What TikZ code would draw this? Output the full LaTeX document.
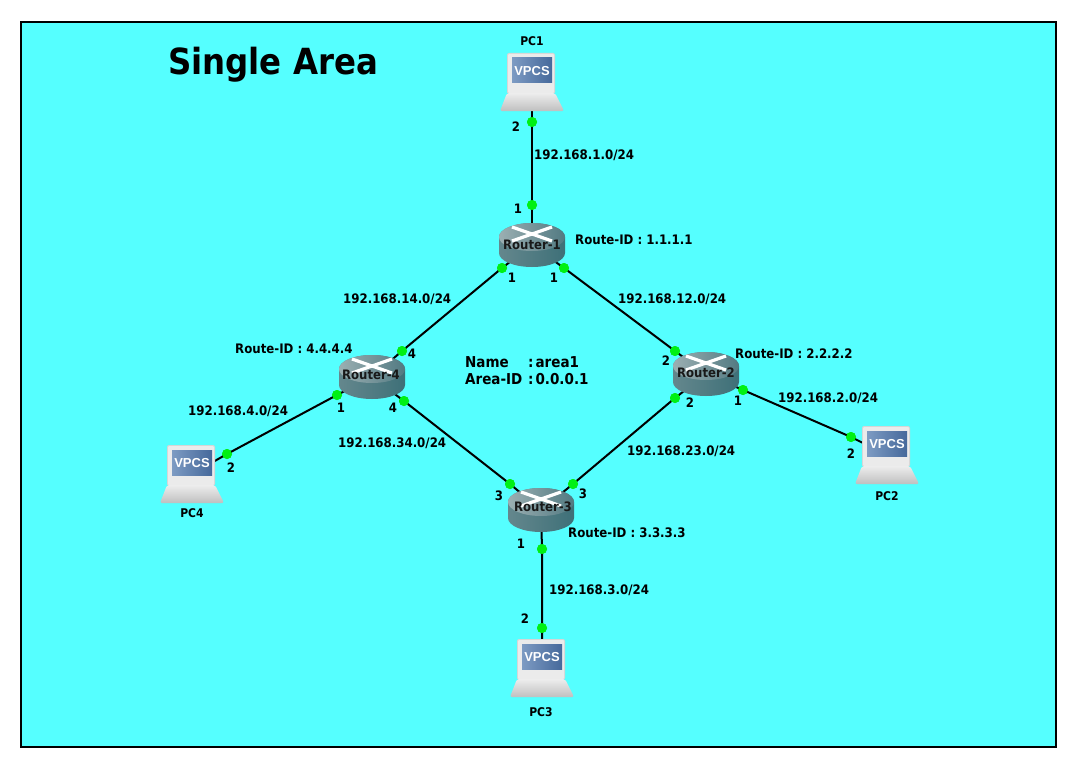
\documentclass[tikz,border=0pt]{standalone}
\usepackage{fontspec}
\setmainfont{DejaVu Sans Condensed}
\newfontfamily\vpcsfont{Liberation Sans}
\usetikzlibrary{calc}
\definecolor{bgc}{RGB}{85,255,255}
\definecolor{dotg}{RGB}{0,240,20}
\definecolor{rbodyl}{RGB}{100,135,141}
\definecolor{rbodyr}{RGB}{62,112,120}
\definecolor{rtopl}{RGB}{155,175,178}
\definecolor{rtopr}{RGB}{82,122,130}
\definecolor{scrl}{RGB}{125,155,195}
\definecolor{scrr}{RGB}{70,105,155}
\tikzset{
  x=1pt,y=-1pt,
  lab/.style={font=\fontsize{13.1}{15}\selectfont\bfseries,inner sep=0pt,text=black,yshift=-1pt},
  arealab/.style={font=\fontsize{15}{17}\selectfont\bfseries,inner sep=0pt,text=black,anchor=west},
  portnum/.style={font=\fontsize{13}{15}\selectfont\bfseries,inner sep=0pt,text=black},
  devname/.style={font=\fontsize{13}{15}\selectfont\bfseries,inner sep=0pt,text=black!90},
  pcname/.style={font=\fontsize{12}{14}\selectfont\bfseries,inner sep=0pt,text=black},
  anchorbox/.style={inner sep=0pt,minimum width=60pt,minimum height=40pt},
  dotn/.style={circle,fill=dotg,draw=none,inner sep=0pt,minimum size=10pt},
  link/.style={draw=black,line width=2pt},
  routericon/.pic={
    \shade[left color=rbodyl,right color=rbodyr]
      (-33,-8) -- (-33,8) arc[start angle=180,end angle=0,x radius=33,y radius=14]
      -- (33,-8) arc[start angle=0,end angle=-180,x radius=33,y radius=14] -- cycle;
    \shade[left color=rtopl,right color=rtopr]
      (0,-8) ellipse[x radius=33,y radius=14];
    \draw[white,line width=3.2pt] (-20,-18) -- (20,-4);
    \draw[white,line width=3.2pt] (-20,-4) -- (20,-18);
  },
  pcicon/.pic={
    \fill[rounded corners=2pt,black!16] (-25,-29) rectangle (23,12);
    \fill[rounded corners=1pt,black!8] (-24,-28) rectangle (22,11);
    \shade[left color=scrl,right color=scrr] (-20,-24) rectangle (20,1);
    \node[text=white,font=\fontsize{13}{15}\selectfont\vpcsfont\bfseries,inner sep=0pt] at (0,-11) {VPCS};
    \shade[top color=black!7,bottom color=black!25,rounded corners=2pt]
      (-25,11) -- (23,11) -- (32,29) -- (-32,29) -- cycle;
  }
}
\begin{document}
\begin{tikzpicture}
\useasboundingbox (0,0) rectangle (1077,768);
\fill[white] (0,0) rectangle (1077,768);
\draw[fill=bgc,draw=black,line width=2pt] (21,22) rectangle (1056,747);

% anchors
\node[anchorbox] (r1) at (532,245) {};
\node[anchorbox] (r2) at (706,374) {};
\node[anchorbox] (r3) at (541,510) {};
\node[anchorbox] (r4) at (372,377) {};
\node[anchorbox] (pc1) at (532,82) {};
\node[anchorbox] (pc2) at (887,455) {};
\node[anchorbox] (pc3) at (542,668) {};
\node[anchorbox] (pc4) at (192,474) {};

% port dots
\node[dotn] (p1a) at (532,122) {};
\node[dotn] (p1b) at (532,205) {};
\node[dotn] (r1l) at (502,268) {};
\node[dotn] (r4a) at (402,351) {};
\node[dotn] (r1r) at (564,268) {};
\node[dotn] (r2a) at (675,351) {};
\node[dotn] (r4b) at (404,401) {};
\node[dotn] (r3a) at (510,484) {};
\node[dotn] (r2b) at (675,398) {};
\node[dotn] (r3b) at (573,484) {};
\node[dotn] (r3c) at (542,549) {};
\node[dotn] (p3a) at (542,628) {};
\node[dotn] (r4c) at (337,395) {};
\node[dotn] (p4a) at (227,454) {};
\node[dotn] (r2c) at (743,390) {};
\node[dotn] (p2a) at (851,437) {};

% links
\draw[link] (pc1.center) -- (p1a.center) -- (p1b.center) -- (r1.center);
\draw[link] (r1.center) -- (r1l.center) -- (r4a.center) -- (r4.center);
\draw[link] (r1.center) -- (r1r.center) -- (r2a.center) -- (r2.center);
\draw[link] (r4.center) -- (r4b.center) -- (r3a.center) -- (r3.center);
\draw[link] (r2.center) -- (r2b.center) -- (r3b.center) -- (r3.center);
\draw[link] (r3.center) -- (r3c.center) -- (p3a.center) -- (pc3.center);
\draw[link] (r4.center) -- (r4c.center) -- (p4a.center) -- (pc4.center);
\draw[link] (r2.center) -- (r2c.center) -- (p2a.center) -- (pc2.center);

% icons
\pic at (r1.center) {routericon};
\pic at (r2.center) {routericon};
\pic at (r3.center) {routericon};
\pic at (r4.center) {routericon};
\pic at (pc1.center) {pcicon};
\pic at (pc2.center) {pcicon};
\pic at (pc3.center) {pcicon};
\pic at (pc4.center) {pcicon};

% dots on top
\foreach \d in {p1a,p1b,r1l,r4a,r1r,r2a,r4b,r3a,r2b,r3b,r3c,p3a,r4c,p4a,r2c,p2a}
  \fill[dotg] (\d.center) circle (5);

% device names
\node[devname] at (532,245) {Router-1};
\node[devname] at (371,375) {Router-4};
\node[devname] at (706,373) {Router-2};
\node[devname] at (543,507) {Router-3};
\node[pcname] at (532,41) {PC1};
\node[pcname] at (887,496) {PC2};
\node[pcname] at (541,712) {PC3};
\node[pcname] at (192,513) {PC4};

% title and notes
\node[font=\fontsize{36}{40}\selectfont\bfseries,anchor=west,inner sep=0pt] (title) at (168,65) {Single Area};
\node[arealab] (area1) at (465,362) {\makebox[63pt][l]{Name}:\hspace{2pt}area1};
\node[arealab] (area2) at (465,379) {\makebox[63pt][l]{Area-ID}:\hspace{2pt}0.0.0.1};

% route ids
\node[lab,anchor=west] (id1) at (575,239) {Route-ID : 1.1.1.1};
\node[lab,anchor=west] (id2) at (735,353) {Route-ID : 2.2.2.2};
\node[lab,anchor=west] (id3) at (568,532) {Route-ID : 3.3.3.3};
\node[lab,anchor=west] (id4) at (235,348) {Route-ID : 4.4.4.4};

% networks
\node[lab,anchor=west] (n1) at (534,154) {192.168.1.0/24};
\node[lab,anchor=west] (n14) at (343,298) {192.168.14.0/24};
\node[lab,anchor=west] (n12) at (618,298) {192.168.12.0/24};
\node[lab,anchor=west] (n4) at (188,410) {192.168.4.0/24};
\node[lab,anchor=west] (n2) at (778,397) {192.168.2.0/24};
\node[lab,anchor=west] (n34) at (338,442) {192.168.34.0/24};
\node[lab,anchor=west] (n23) at (627,450) {192.168.23.0/24};
\node[lab,anchor=west] (n3) at (549,589) {192.168.3.0/24};

% port numbers
\node[portnum] at (516,127) {2};
\node[portnum] at (518,209) {1};
\node[portnum] at (512,278) {1};
\node[portnum] at (554,278) {1};
\node[portnum] at (412,354) {4};
\node[portnum] at (666,361) {2};
\node[portnum] at (341,408) {1};
\node[portnum] at (393,408) {4};
\node[portnum] at (690,403) {2};
\node[portnum] at (738,401) {1};
\node[portnum] at (231,468) {2};
\node[portnum] at (851,454) {2};
\node[portnum] at (499,496) {3};
\node[portnum] at (583,494) {3};
\node[portnum] at (521,544) {1};
\node[portnum] at (525,619) {2};
\end{tikzpicture}
\end{document}
